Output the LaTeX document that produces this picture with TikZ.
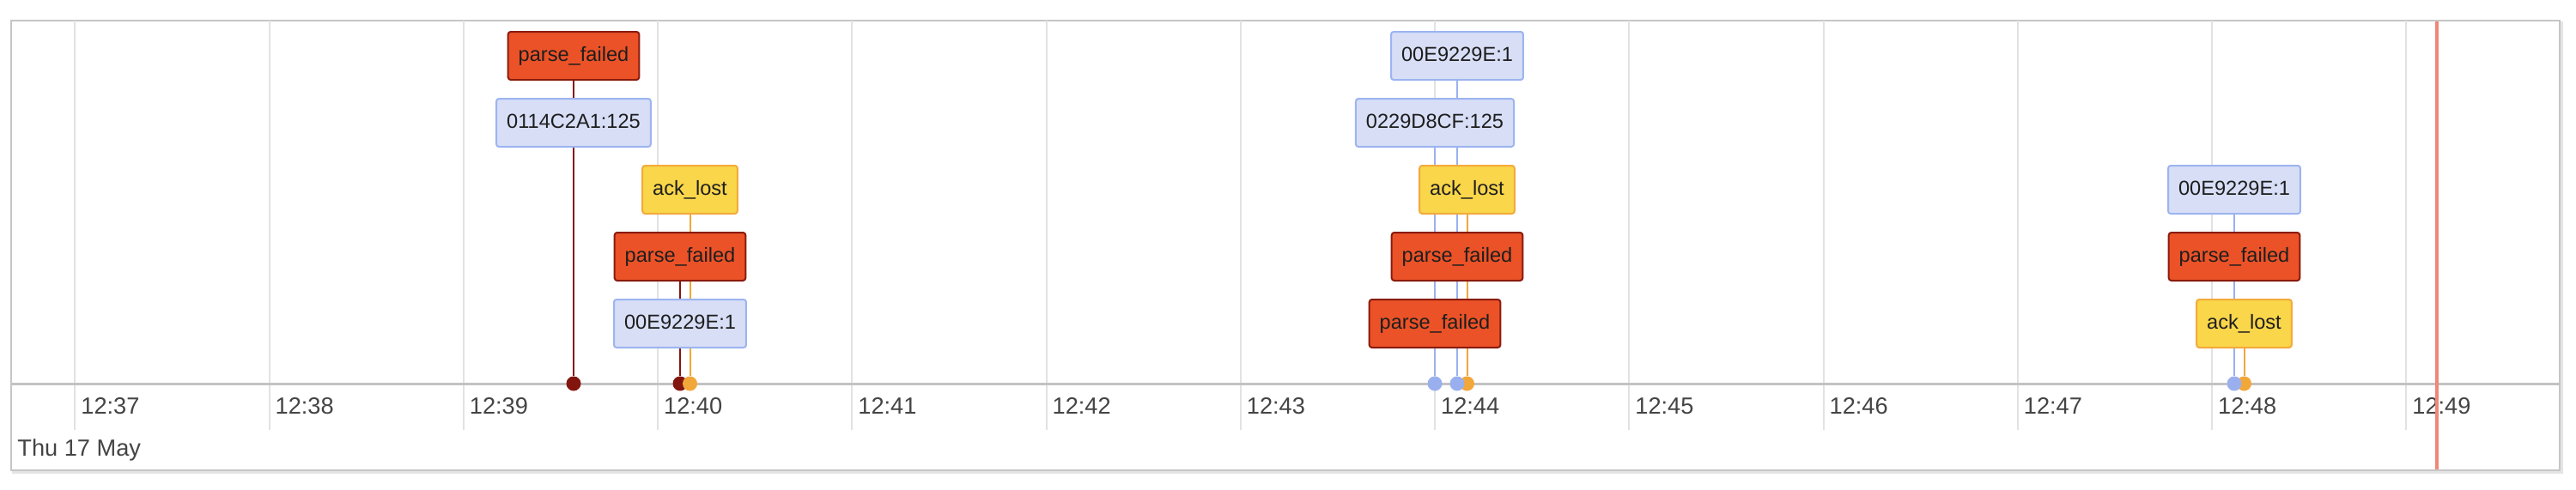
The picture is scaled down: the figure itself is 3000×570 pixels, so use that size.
\documentclass[tikz,border=0pt]{standalone}
\usepackage{fontspec}
\setmainfont{Liberation Sans}

\definecolor{failfill}{HTML}{EB5227}
\definecolor{failedge}{HTML}{8A1B0E}
\definecolor{idfill}{HTML}{D7DEF6}
\definecolor{idedge}{HTML}{9CB4F0}
\definecolor{ackfill}{HTML}{F9D64A}
\definecolor{ackedge}{HTML}{F3AA3C}
\definecolor{redline}{HTML}{83150F}
\definecolor{orangeline}{HTML}{F2A73A}
\definecolor{blueline}{HTML}{9AB0EE}
\definecolor{nowred}{HTML}{EE8877}
\definecolor{gridgray}{HTML}{E2E2E2}
\definecolor{axisgray}{HTML}{C2C2C2}
\definecolor{framegray}{HTML}{C6C6C6}
\definecolor{shadowgray}{HTML}{E4E4E4}
\definecolor{ticktext}{HTML}{444444}
\definecolor{boxtext}{HTML}{1E1E1E}

\pgfdeclarelayer{grid}
\pgfdeclarelayer{links}
\pgfsetlayers{grid,links,main}

\tikzset{
  evbox/.style={draw, rounded corners=1.5pt, line width=1pt, minimum height=28pt,
    inner xsep=6pt, text=boxtext, font=\fontsize{11.8pt}{14pt}\selectfont,
    text height=8.5pt, text depth=2.5pt},
  failbox/.style={evbox, fill=failfill, draw=failedge},
  idbox/.style={evbox, fill=idfill, draw=idedge},
  ackbox/.style={evbox, fill=ackfill, draw=ackedge},
  evline/.style={line width=1pt},
  evdot/.style={circle, inner sep=0pt, minimum size=8.5pt},
  ticklbl/.style={anchor=base west, inner sep=0pt, text=ticktext,
    font=\fontsize{13.6pt}{16pt}\selectfont},
}

\begin{document}
\begin{tikzpicture}[x=0.5pt,y=-0.5pt]
\useasboundingbox (0,0) rectangle (3000,570);

\begin{pgfonlayer}{grid}
\draw[shadowgray, line width=1.5pt] (15,26) rectangle (2983,550);
\draw[framegray, line width=1.25pt, fill=white] (13,24) rectangle (2981,548);
\foreach \m [count=\k from 0] in {37,...,49} {
  \draw[gridgray, line width=1pt] ({87.25+226.25*\k},24) -- ({87.25+226.25*\k},501);
  \node[ticklbl] (t\m) at ({94+226.25*\k},482) {12:\m};
}
\draw[axisgray, line width=1.5pt] (13,447) -- (2981,447);
\end{pgfonlayer}

\node[ticklbl] (date) at (20,531) {Thu 17 May};

% 12:39
\node[failbox] (pfA) at (668,65) {parse\_failed};
\node[idbox] (idA) at (668,143) {0114C2A1:125};

% 12:40
\node[ackbox] (ackB) at (803.5,221) {ack\_lost};
\node[failbox] (pfB) at (792,299) {parse\_failed};
\node[idbox] (idB) at (792,377) {00E9229E:1};

% 12:44
\node[idbox] (idC1) at (1697,65) {00E9229E:1};
\node[idbox] (idC2) at (1671,143) {0229D8CF:125};
\node[ackbox] (ackC) at (1708.5,221) {ack\_lost};
\node[failbox] (pfC1) at (1697,299) {parse\_failed};
\node[failbox] (pfC2) at (1671,377) {parse\_failed};

% 12:48
\node[idbox] (idD) at (2602,221) {00E9229E:1};
\node[failbox] (pfD) at (2602,299) {parse\_failed};
\node[ackbox] (ackD) at (2613.5,377) {ack\_lost};

% dots on the axis
\node[evdot, fill=redline] (dA) at (668,447) {};
\node[evdot, fill=redline] (dB1) at (792,447) {};
\node[evdot, fill=orangeline] (dB2) at (803.5,447) {};
\node[evdot, fill=orangeline] (dC3) at (1708.5,447) {};
\node[evdot, fill=blueline] (dC1) at (1697,447) {};
\node[evdot, fill=blueline] (dC2) at (1671,447) {};
\node[evdot, fill=orangeline] (dD2) at (2613.5,447) {};
\node[evdot, fill=blueline] (dD1) at (2602,447) {};

\begin{pgfonlayer}{links}
\draw[evline, redline] (pfA) -- (dA);
\draw[evline, redline] (pfB) -- (dB1);
\draw[evline, orangeline] (ackB) -- (dB2);
\draw[evline, blueline] (idC1) -- (dC1);
\draw[evline, blueline] (idC2) -- (dC2);
\draw[evline, orangeline] (ackC) -- (dC3);
\draw[evline, blueline] (idD) -- (dD1);
\draw[evline, orangeline] (ackD) -- (dD2);
\end{pgfonlayer}

% now
\draw[nowred, line width=2pt] (2838,25) -- (2838,547);

\end{tikzpicture}
\end{document}
